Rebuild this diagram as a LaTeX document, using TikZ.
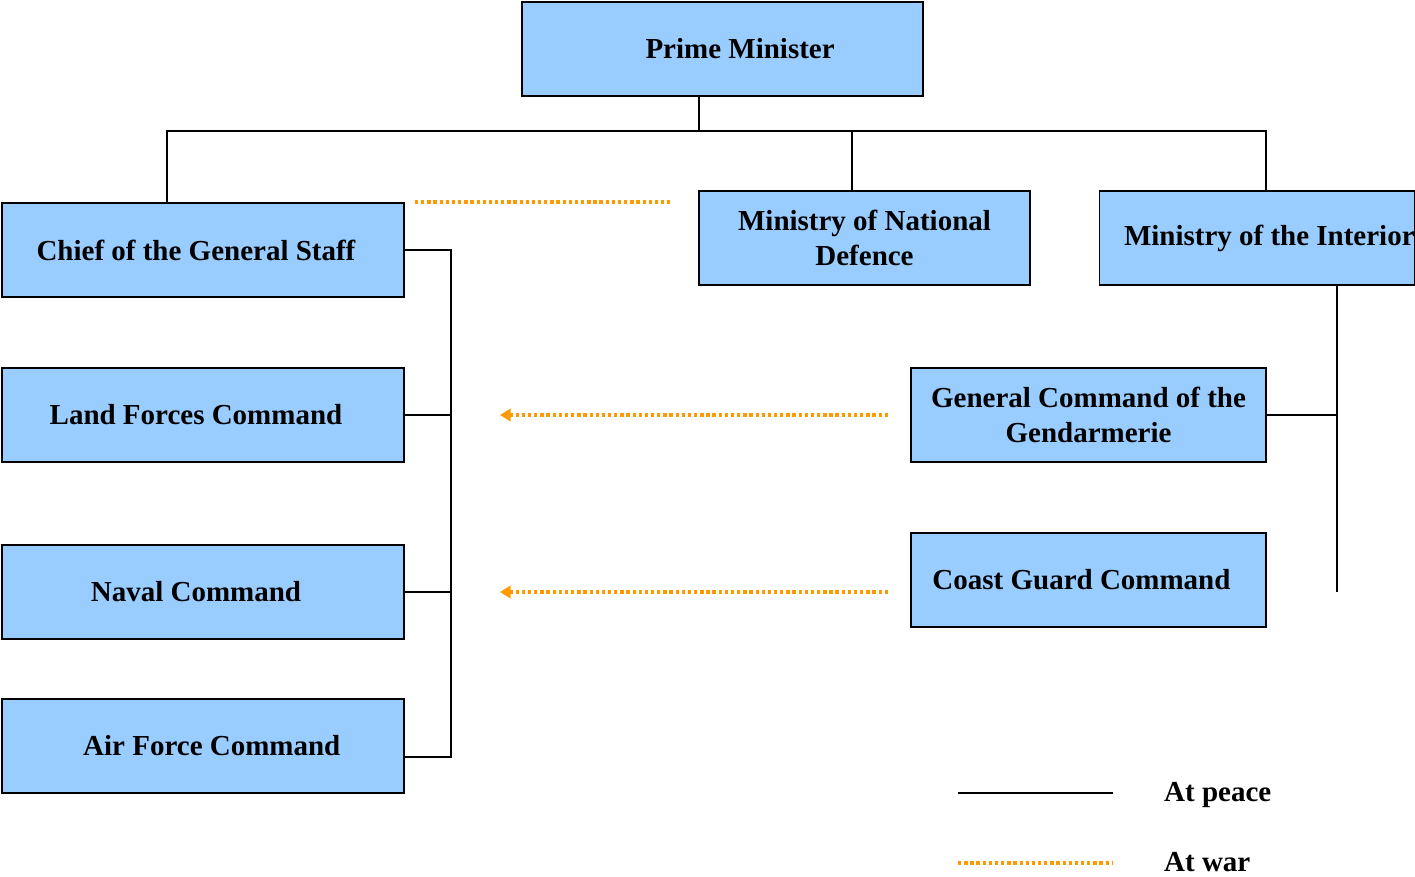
\documentclass[tikz,border=0pt]{standalone}
\usepackage{fontspec}
\setmainfont{Liberation Serif}
\usetikzlibrary{arrows.meta}
\definecolor{boxblue}{RGB}{153,204,255}
\definecolor{warorange}{RGB}{255,153,0}
\begin{document}
\begin{tikzpicture}[x=0.02cm,y=-0.02cm,
    box/.style={draw,fill=boxblue,line width=0.6pt,minimum width=#1*0.02cm,minimum height=1.88cm,
        align=center,inner sep=0pt,font=\fontsize{16.5}{19.5}\selectfont\bfseries},
    peace/.style={line width=0.6pt},
    war/.style={warorange,line width=1.9pt,dash pattern=on 1.9pt off 1.6pt},
    warr/.style={war,-{Triangle[length=6pt,width=7pt]}}]
    \useasboundingbox (0,0) rectangle (1415,876);

    % boxes
    \node[box=401] (pm) at (722.5,49) {\hspace*{20pt}Prime Minister};
    \node[box=402] (cgs) at (203,250) {Chief of the General Staff\hspace*{8pt}};
    \node[box=331] (mnd) at (864.5,238) {Ministry of National\\Defence};
    \node[box=312] (mi) at (1257,238) {\hspace*{14pt}Ministry of the Interior};
    \node[box=402] (lfc) at (203,415) {Land Forces Command\hspace*{8pt}};
    \node[box=402] (nc) at (203,592) {Naval Command\hspace*{8pt}};
    \node[box=402] (afc) at (203,746) {\hspace*{10pt}Air Force Command};
    \node[box=355] (gcg) at (1088.5,415) {General Command of the\\Gendarmerie};
    \node[box=355] (cgc) at (1088.5,580) {Coast Guard Command\hspace*{8pt}};

    % peace lines
    \coordinate (top) at (699,131);
    \coordinate (lbus) at (451,250);
    \coordinate (rbus) at (1337,592);
    \draw[peace] (pm.south -| top) -- (top);
    \draw[peace] (cgs.north -| 167,0) |- (top) -| (mi.north -| 1266,0);
    \draw[peace] (mnd.north -| 852,0) -- (852,131);
    \draw[peace] (cgs.east |- lbus) -- (lbus) |- (afc.east |- 0,757);
    \draw[peace] (lfc.east) -- (lfc.east -| lbus);
    \draw[peace] (nc.east) -- (nc.east -| lbus);
    \draw[peace] (mi.south -| rbus) -- (rbus);
    \draw[peace] (gcg.east) -- (gcg.east -| rbus);

    % war lines
    \coordinate (w1) at (415,202);
    \coordinate (w2) at (672,202);
    \draw[war] (w1) -- (w2);
    \draw[warr] (888,415) -- (500,415);
    \draw[warr] (888,592) -- (500,592);

    % legend
    \coordinate (lp1) at (958,793);
    \coordinate (lp2) at (1113,793);
    \coordinate (lw1) at (958,863);
    \coordinate (lw2) at (1113,863);
    \draw[peace] (lp1) -- (lp2);
    \draw[war] (lw1) -- (lw2);
    \node[anchor=west,font=\fontsize{16.5}{19.5}\selectfont\bfseries] (lpeace) at (1158,795) {At peace};
    \node[anchor=west,font=\fontsize{16.5}{19.5}\selectfont\bfseries] (lwar) at (1158,862) {At war};
\end{tikzpicture}
\end{document}
